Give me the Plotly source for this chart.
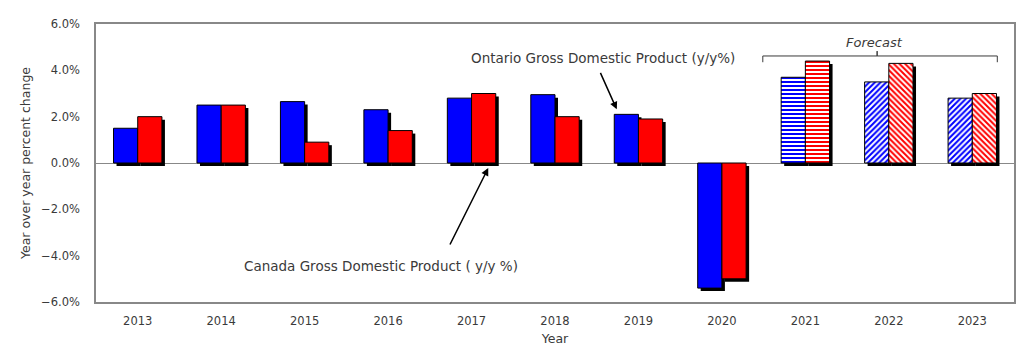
import plotly.graph_objects as go

years = ["2013", "2014", "2015", "2016", "2017", "2018", "2019", "2020", "2021", "2022", "2023"]
ontario = [1.5, 2.5, 2.65, 2.3, 2.8, 2.95, 2.1, -5.4, 3.7, 3.5, 2.8]
canada = [2.0, 2.5, 0.9, 1.4, 3.0, 2.0, 1.9, -5.0, 4.4, 4.3, 3.0]
ont_pattern = ["", "", "", "", "", "", "", "", "-", "/", "/"]
can_pattern = ["", "", "", "", "", "", "", "", "-", "\\", "\\"]

FONT = "DejaVu Sans"
TXT = "#3a3a3a"
W = 0.29          # bar width in category units
DX = 0.036        # shadow shift right (category units)
DY = 0.13         # shadow shift down (percent)

xs = list(range(len(years)))
fig = go.Figure()

def add_series(vals, color, pattern, offset, name):
    # drop shadow
    fig.add_trace(go.Bar(
        x=xs, y=vals, base=[-DY] * len(vals), width=W, offset=offset + DX,
        marker=dict(color="black", line=dict(width=0)),
        showlegend=False, hoverinfo="skip"))
    fig.add_trace(go.Bar(
        x=xs, y=vals, width=W, offset=offset, name=name,
        marker=dict(color=color, line=dict(color="black", width=1),
                    pattern=dict(shape=pattern, fgcolor=color, bgcolor="white",
                                 size=4, solidity=0.5, fillmode="replace")),
        showlegend=False))

add_series(ontario, "#0000ff", ont_pattern, -W, "Ontario")
add_series(canada, "#ff0000", can_pattern, 0.0, "Canada")

# Forecast bracket
fig.add_shape(type="path", xref="x", yref="y",
              path="M 7.49 4.35 L 7.49 4.62 L 8.86 4.62 L 8.86 4.83 L 8.86 4.62 L 10.3 4.62 L 10.3 4.35",
              line=dict(color=TXT, width=1))
fig.add_annotation(x=8.83, y=5.22, xref="x", yref="y", text="<i>Forecast</i>",
                   showarrow=False, font=dict(family=FONT, size=13, color=TXT))

# Ontario callout
i19 = years.index("2019")
fig.add_annotation(x=i19 - 0.26, y=ontario[i19], xref="x", yref="y", yshift=5, text="",
                   showarrow=True, arrowhead=2, arrowsize=1, arrowwidth=1.5,
                   arrowcolor="black", ax=-17, ay=-38)
fig.add_annotation(x=5.575, y=4.53, xref="x", yref="y", showarrow=False,
                   text="Ontario Gross Domestic Product (y/y%)",
                   font=dict(family=FONT, size=13.5, color=TXT))

# Canada callout
i17 = years.index("2017")
fig.add_annotation(x=i17 + 0.2, y=0, xref="x", yref="y", yshift=-5, text="",
                   showarrow=True, arrowhead=2, arrowsize=1, arrowwidth=1.5,
                   arrowcolor="black", ax=-39, ay=78)
fig.add_annotation(x=2.915, y=-4.44, xref="x", yref="y", showarrow=False,
                   text="Canada Gross Domestic Product ( y/y %)",
                   font=dict(family=FONT, size=13.5, color=TXT))

fig.update_layout(
    width=1024, height=349,
    margin=dict(l=96, r=10, t=24, b=47),
    paper_bgcolor="white", plot_bgcolor="white",
    barmode="overlay",
    font=dict(family=FONT, size=12, color=TXT),
)
fig.update_xaxes(
    range=[-0.5, len(years) - 0.5], tickvals=xs, ticktext=years, automargin=False,
    showgrid=False, showline=True, linecolor="#888888", linewidth=1.5, zeroline=False,
    mirror=True, ticks="", ticklabelstandoff=7,
    title=dict(text="Year", font=dict(family=FONT, size=12.5), standoff=8),
    tickfont=dict(family=FONT, size=11.5, color=TXT),
)
fig.update_yaxes(
    range=[-6, 6], dtick=2, tickformat=".1f", ticksuffix="%", automargin=False,
    showgrid=False, showline=True, linecolor="#888888", linewidth=1.5, mirror=True,
    zeroline=True, zerolinecolor="#888888", zerolinewidth=1,
    ticks="", ticklabelstandoff=12,
    title=dict(text="Year over year percent change", font=dict(family=FONT, size=12.5), standoff=8),
    tickfont=dict(family=FONT, size=11.5, color=TXT),
)

fig.write_html("out.html")
